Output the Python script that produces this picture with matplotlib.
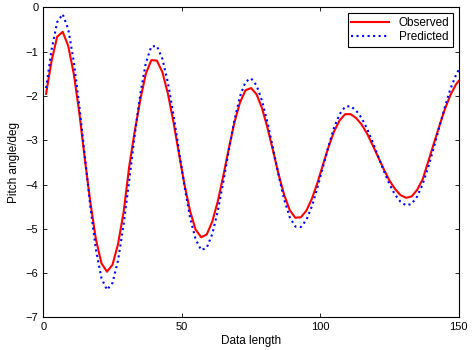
import matplotlib
matplotlib.use("Agg")
import matplotlib.pyplot as plt

plt.rcParams['font.family'] = ['Liberation Sans', 'DejaVu Sans']

# sample positions (data length index)
x = list(range(1, 150, 2)) + [150]

observed = [-1.95, -1.20, -0.66, -0.55, -0.87, -1.50, -2.38, -3.43, -4.41, -5.24,
            -5.78, -5.97, -5.81, -5.34, -4.62, -3.60, -2.80, -2.09, -1.50, -1.19,
            -1.20, -1.46, -1.95, -2.59, -3.31, -4.01, -4.60, -5.02, -5.19, -5.13,
            -4.84, -4.38, -3.80, -3.18, -2.60, -2.15, -1.87, -1.82, -1.96, -2.28,
            -2.73, -3.25, -3.78, -4.24, -4.58, -4.75, -4.74, -4.59, -4.32, -3.96,
            -3.55, -3.15, -2.80, -2.55, -2.41, -2.41, -2.50, -2.65, -2.86, -3.12,
            -3.39, -3.66, -3.91, -4.10, -4.24, -4.30, -4.27, -4.12, -3.88, -3.48,
            -3.08, -2.68, -2.30, -1.98, -1.74, -1.66]

predicted = [-1.82, -0.95, -0.33, -0.15, -0.49, -1.22, -2.22, -3.37, -4.51, -5.47,
             -6.12, -6.38, -6.22, -5.71, -4.90, -3.92, -2.89, -1.96, -1.26, -0.88,
             -0.87, -1.16, -1.70, -2.42, -3.24, -4.05, -4.75, -5.24, -5.48, -5.43,
             -5.12, -4.60, -3.94, -3.22, -2.55, -2.01, -1.68, -1.60, -1.76, -2.11,
             -2.61, -3.20, -3.80, -4.34, -4.74, -4.95, -4.96, -4.80, -4.49, -4.07,
             -3.60, -3.13, -2.71, -2.41, -2.24, -2.23, -2.33, -2.50, -2.75, -3.05,
             -3.38, -3.70, -3.99, -4.23, -4.39, -4.47, -4.44, -4.27, -3.99, -3.61,
             -3.17, -2.70, -2.25, -1.84, -1.53, -1.41]

xticks = [0, 50, 100, 150]
yticks = [-7, -6, -5, -4, -3, -2, -1, 0]

fig = plt.figure(figsize=(4.74, 3.5), dpi=100)
ax = fig.add_axes([0.0914, 0.0934, 0.8763, 0.8852])

ax.plot(x, observed, color='red', linewidth=1.5, label='Observed')
ax.plot(x, predicted, color='blue', linestyle=':', linewidth=1.5, label='Predicted')

ax.set_xlim(0, 150)
ax.set_ylim(-7, 0)
ax.set_xticks(xticks)
ax.set_yticks(yticks)
ax.tick_params(direction='in', top=True, right=True, labelsize=8, length=3, width=0.6)
for s in ax.spines.values():
    s.set_linewidth(0.8)

ax.set_xlabel('Data length', fontsize=8.5, labelpad=2)
ax.set_ylabel('Pitch angle/deg', fontsize=8.5, labelpad=4)

leg = ax.legend(loc='upper right', fontsize=8.5, fancybox=False, framealpha=1,
                edgecolor='black', handlelength=3.2, borderpad=0.3, labelspacing=0.2,
                borderaxespad=0.5)
leg.get_frame().set_linewidth(0.8)

fig.savefig('out.png', dpi=100)
